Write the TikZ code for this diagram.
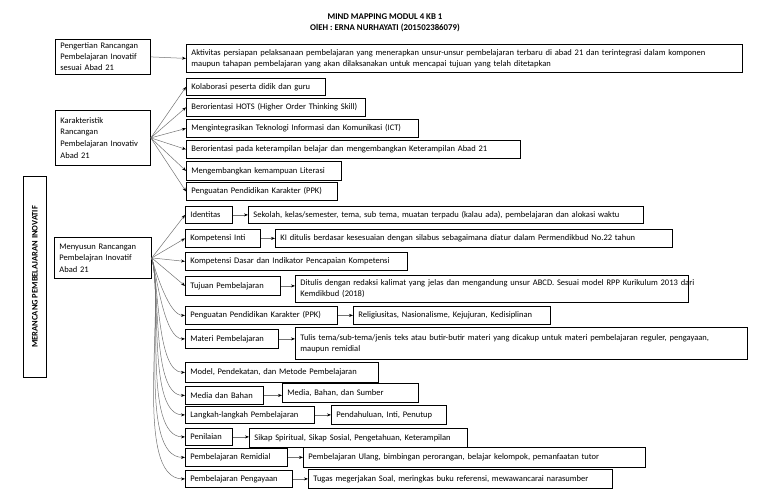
\documentclass[tikz,border=0pt]{standalone}
\usepackage{fontspec}
\setmainfont{Carlito}
\usetikzlibrary{arrows.meta}
\newcommand\lineL[1]{\makebox[\linewidth][l]{#1}}
\newcommand\lineS[1]{\makebox[\linewidth][s]{#1}}
\begin{document}
\begin{tikzpicture}[x=1pt,y=-1pt,
  font=\fontsize{8.5}{11}\selectfont,
  box/.style={draw=black, line width=0.8pt, anchor=north west, align=left,
    inner xsep=5pt, inner ysep=1pt, fill=white},
  conn/.style={draw=black!55, line width=0.5pt, -{Stealth[length=4pt,width=3pt,black]}},
  ttl/.style={font=\bfseries\fontsize{8.8}{10}\selectfont}]
\useasboundingbox (0,0) rectangle (768,503);

\node[ttl] (t1) at (385,17) {MIND MAPPING MODUL 4 KB 1};
\node[ttl] (t2) at (385,28) {OlEH : ERNA NURHAYATI (201502386079)};

% left boxes
\node[box, minimum width=95pt, minimum height=35pt, text width=85pt] (pen) at (55,39)
  {\lineS{Pengertian Rancangan}\\\lineS{Pembelajaran Inovatif}\\sesuai Abad 21};
\node[box, minimum width=95pt, minimum height=55pt, text width=85pt,
  font=\fontsize{8.5}{11.7}\selectfont] (kar) at (55,110)
  {Karakteristik\\Rancangan\\\lineS{Pembelajaran Inovativ}\\Abad 21};
\node[box, minimum width=23pt, minimum height=201pt, inner sep=0pt, align=center] (mer) at (23,176)
  {\rotatebox{90}{\bfseries MERANCANG PEMBELAJARAN INOVATIF}};
\node[box, minimum width=97pt, minimum height=41pt, text width=87pt,
  font=\fontsize{8.5}{11.5}\selectfont] (men) at (54,237)
  {\lineS{Menyusun Rancangan}\\\lineS{Pembelajran Inovatif}\\Abad 21};

% definition
\node[box, minimum width=556pt, minimum height=28pt, text width=546pt] (def) at (186,44)
  {\makebox[535pt][s]{Aktivitas persiapan pelaksanaan pembelajaran yang menerapkan unsur-unsur pembelajaran terbaru di abad 21 dan terintegrasi dalam komponen}\\maupun tahapan pembelajaran yang akan dilaksanakan untuk mencapai tujuan yang telah ditetapkan};

% karakteristik children
\node[box, minimum width=139pt, minimum height=17pt, text width=129pt] (k1) at (186,78) {\lineL{Kolaborasi peserta didik dan guru}};
\node[box, minimum width=179pt, minimum height=18pt, text width=169pt] (k2) at (186,98) {\lineL{Berorientasi HOTS (Higher Order Thinking Skill)}};
\node[box, minimum width=232pt, minimum height=18pt, text width=222pt] (k3) at (186,119) {\lineL{Mengintegrasikan Teknologi Informasi dan Komunikasi (ICT)}};
\node[box, minimum width=334pt, minimum height=18pt, text width=324pt] (k4) at (186,140) {\lineS{Berorientasi pada keterampilan belajar dan mengembangkan Keterampilan Abad 21}};
\node[box, minimum width=155pt, minimum height=19pt, text width=145pt] (k5) at (186,161) {\lineL{Mengembangkan kemampuan Literasi}};
\node[box, minimum width=151pt, minimum height=18pt, text width=141pt] (k6) at (186,182) {\lineL{Penguatan Pendidikan Karakter (PPK)}};

% menyusun children
\node[box, minimum width=47pt, minimum height=17pt, text width=37pt] (m1) at (185,206) {\lineL{Identitas}};
\node[box, minimum width=395pt, minimum height=17pt, text width=385pt] (d1) at (248,206) {\lineL{Sekolah, kelas/semester, tema, sub tema, muatan terpadu (kalau ada), pembelajaran dan alokasi waktu}};
\node[box, minimum width=75pt, minimum height=18pt, text width=65pt] (m2) at (185,229) {\lineL{Kompetensi Inti}};
\node[box, minimum width=397pt, minimum height=18pt, text width=387pt] (d2) at (275,229) {\lineS{KI ditulis berdasar kesesuaian dengan silabus sebagaimana diatur dalam Permendikbud No.22 tahun}};
\node[box, minimum width=222pt, minimum height=18pt, text width=212pt] (m3) at (185,252) {\lineL{Kompetensi Dasar dan Indikator Pencapaian Kompetensi}};
\node[box, minimum width=95pt, minimum height=19pt, text width=85pt] (m4) at (185,276) {\lineL{Tujuan Pembelajaran}};
\node[box, minimum width=393pt, minimum height=27pt, text width=383pt] (d4) at (295,275) {\lineS{Ditulis dengan redaksi kalimat yang jelas dan mengandung unsur ABCD. Sesuai model RPP Kurikulum 2013 dari}\\Kemdikbud (2018)};
\node[box, minimum width=152pt, minimum height=18pt, text width=142pt] (m5) at (185,306) {\lineL{Penguatan Pendidikan Karakter (PPK)}};
\node[box, minimum width=197pt, minimum height=18pt, text width=187pt] (d5) at (353,306) {\lineL{Religiusitas, Nasionalisme, Kejujuran, Kedisiplinan}};
\node[box, minimum width=93pt, minimum height=19pt, text width=83pt] (m6) at (185,329) {\lineL{Materi Pembelajaran}};
\node[box, minimum width=452pt, minimum height=32pt, text width=442pt] (d6) at (295,327) {\lineS{Tulis tema/sub-tema/jenis teks atau butir-butir materi yang dicakup untuk materi pembelajaran reguler, pengayaan,}\\maupun remidial};
\node[box, minimum width=193pt, minimum height=20pt, text width=183pt] (m7) at (185,362) {\lineL{Model, Pendekatan, dan Metode Pembelajaran}};
\node[box, minimum width=78pt, minimum height=18pt, text width=68pt] (m8) at (185,386) {\lineL{Media dan Bahan}};
\node[box, minimum width=136pt, minimum height=19pt, text width=126pt] (d8) at (282,383) {\lineS{Media, Bahan, dan Sumber}};
\node[box, minimum width=129pt, minimum height=17pt, text width=119pt] (m9) at (185,406) {\lineL{Langkah-langkah Pembelajaran}};
\node[box, minimum width=115pt, minimum height=19pt, text width=105pt] (d9) at (331,405) {\lineL{Pendahuluan, Inti, Penutup}};
\node[box, minimum width=47pt, minimum height=17pt, text width=37pt] (m10) at (185,428) {\lineL{Penilaian}};
\node[box, minimum width=218pt, minimum height=19pt, text width=208pt] (d10) at (249,428) {\lineL{Sikap Spiritual, Sikap Sosial, Pengetahuan, Keterampilan}};
\node[box, minimum width=102pt, minimum height=18pt, text width=92pt] (m11) at (185,448) {\lineL{Pembelajaran Remidial}};
\node[box, minimum width=342pt, minimum height=20pt, text width=332pt] (d11) at (303,447) {\lineS{Pembelajaran Ulang, bimbingan perorangan, belajar kelompok, pemanfaatan tutor}};
\node[box, minimum width=107pt, minimum height=17pt, text width=97pt] (m12) at (185,470) {\lineL{Pembelajaran Pengayaan}};
\node[box, minimum width=304pt, minimum height=19pt, text width=294pt] (d12) at (308,469) {\lineL{Tugas megerjakan Soal, meringkas buku referensi, mewawancarai narasumber}};

% connectors
\draw[conn] (pen.east) -- (def.west);
\foreach \k in {k1,k2,k3,k4,k5,k6} \draw[conn] (kar.east) -- (\k.west);
\foreach \m in {m1,m2,m3,m4} \draw[conn] (men.east) -- (\m.west);
\foreach \m in {m5,m6,m7,m8,m9,m10,m11,m12} \draw[conn] (men.east) to[out=-75,in=180,looseness=0.6] (\m.west);
\foreach \a/\b in {m1/d1,m2/d2,m4/d4,m5/d5,m6/d6,m8/d8,m9/d9,m10/d10,m11/d11,m12/d12}
  \draw[conn] (\a.east) -- (\a.east -| \b.west);
\end{tikzpicture}
\end{document}
